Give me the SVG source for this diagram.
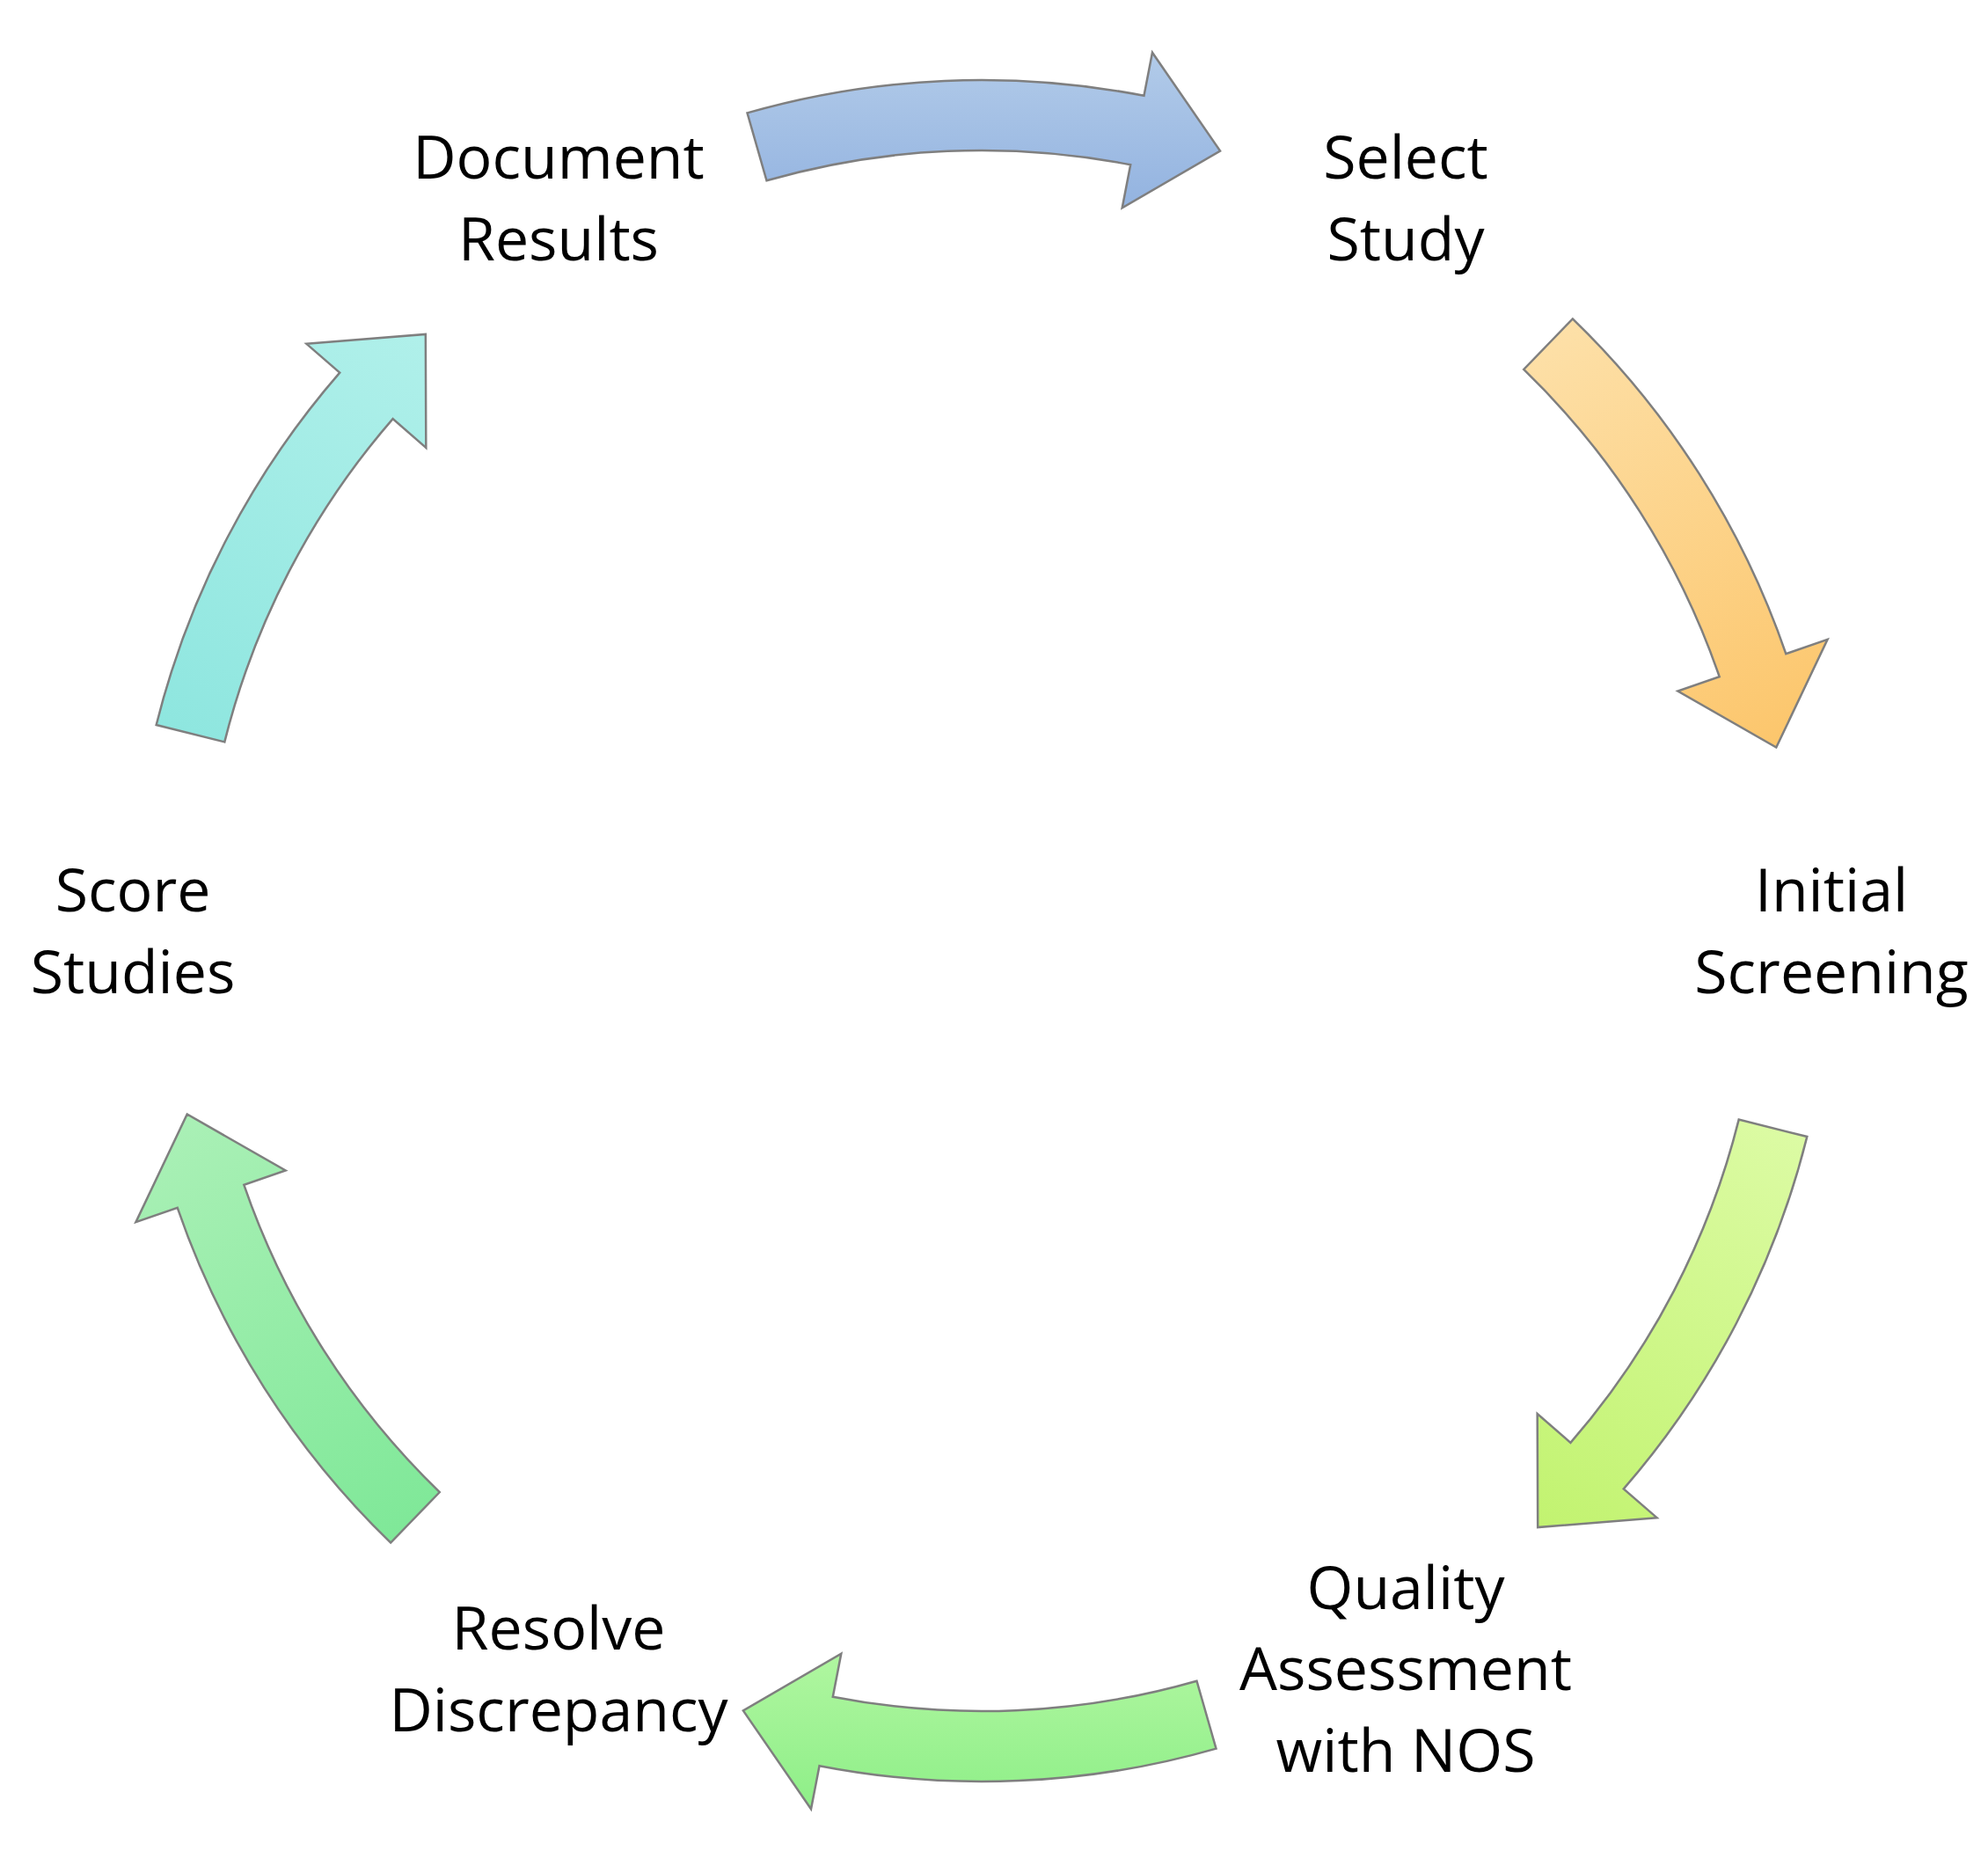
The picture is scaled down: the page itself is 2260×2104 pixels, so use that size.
<svg xmlns="http://www.w3.org/2000/svg" width="2260" height="2104" viewBox="0 0 2260 2104">
<style>
.a{stroke:#7f7f7f;stroke-width:2.5}
text{font-family:"Open Sans","Liberation Sans",sans-serif;font-size:68px;fill:#000;text-anchor:middle}
</style>
<defs>
<path id="arr" d="M -266.5 -929.6 A 967 967 0 0 1 184.5 -949.2 L 194 -998.3 L 271.1 -886.5 L 159.7 -821.6 L 169.2 -870.7 A 887 887 0 0 0 -244.5 -852.7 Z"/>
<linearGradient id="g0" x1="0" y1="0" x2="0" y2="1"><stop offset="0" stop-color="#b2cbe9"/><stop offset="1" stop-color="#93b3e0"/></linearGradient>
<linearGradient id="g1" x1="0" y1="0" x2="1" y2="0"><stop offset="0" stop-color="#fde0a8"/><stop offset="1" stop-color="#fcc66c"/></linearGradient>
<linearGradient id="g2" x1="0" y1="0" x2="1" y2="0"><stop offset="0" stop-color="#dcfba4"/><stop offset="1" stop-color="#c2f370"/></linearGradient>
<linearGradient id="g3" x1="0" y1="0" x2="0" y2="1"><stop offset="0" stop-color="#8eef88"/><stop offset="1" stop-color="#b0f6a0"/></linearGradient>
<linearGradient id="g4" x1="0" y1="0" x2="1" y2="0"><stop offset="0" stop-color="#7fe898"/><stop offset="1" stop-color="#aaf0b6"/></linearGradient>
<linearGradient id="g5" x1="0" y1="0" x2="1" y2="0"><stop offset="0" stop-color="#8ee6df"/><stop offset="1" stop-color="#b0f0ea"/></linearGradient>
</defs>
<g id="connectors">
<use href="#arr" class="a" fill="url(#g0)" transform="translate(1116,1058)"/>
<use href="#arr" class="a" fill="url(#g1)" transform="translate(1116,1058) rotate(60)"/>
<use href="#arr" class="a" fill="url(#g2)" transform="translate(1116,1058) rotate(120)"/>
<use href="#arr" class="a" fill="url(#g3)" transform="translate(1116,1058) rotate(180)"/>
<use href="#arr" class="a" fill="url(#g4)" transform="translate(1116,1058) rotate(240)"/>
<use href="#arr" class="a" fill="url(#g5)" transform="translate(1116,1058) rotate(300)"/>
</g>
<g id="select"><text x="1598" y="203">Select</text><text x="1598" y="296">Study</text></g>
<g id="initial"><text x="2082" y="1036">Initial</text><text x="2082" y="1129">Screening</text></g>
<g id="quality"><text x="1598" y="1829">Quality</text><text x="1598" y="1921">Assessment</text><text x="1598" y="2014">with NOS</text></g>
<g id="resolve"><text x="635" y="1875">Resolve</text><text x="635" y="1968">Discrepancy</text></g>
<g id="score"><text x="151" y="1036">Score</text><text x="151" y="1129">Studies</text></g>
<g id="document"><text x="635" y="203">Document</text><text x="635" y="296">Results</text></g>
</svg>
